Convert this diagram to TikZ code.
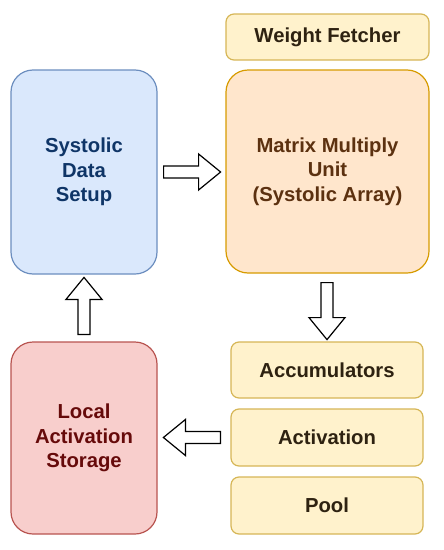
\documentclass[tikz,border=0pt]{standalone}
\usepackage{fontspec}
\setmainfont{Liberation Sans}
\usetikzlibrary{calc}
\definecolor{bluefill}{HTML}{DAE8FC}
\definecolor{bluedraw}{HTML}{6C8EBF}
\definecolor{bluetext}{HTML}{0F3567}
\definecolor{orfill}{HTML}{FFE6CC}
\definecolor{ordraw}{HTML}{D79B00}
\definecolor{ortext}{HTML}{5C3110}
\definecolor{yefill}{HTML}{FFF2CC}
\definecolor{yedraw}{HTML}{D6B656}
\definecolor{yetext}{HTML}{2E2211}
\definecolor{redfill}{HTML}{F8CECC}
\definecolor{reddraw}{HTML}{B85450}
\definecolor{redtext}{HTML}{660A0A}
\def\pxu{0.75pt}
\newcommand\blockarrow[2]{\draw[barrow, shift={#1}, rotate=#2] (0,-6) -- (35,-6) -- (35,-18) -- (57,0) -- (35,18) -- (35,6) -- (0,6) -- cycle;}
\begin{document}
\begin{tikzpicture}[x=0.75pt,y=0.75pt,
  box/.style={draw, line width=0.9pt, align=center, inner sep=0pt,
    font=\fontsize{15.2}{18.4}\selectfont\bfseries},
  big/.style={box, rounded corners=16.5pt},
  small/.style={box, rounded corners=6pt},
  bluebox/.style={big, fill=bluefill, draw=bluedraw, text=bluetext},
  orbox/.style={big, fill=orfill, draw=ordraw, text=ortext},
  redbox/.style={big, fill=redfill, draw=reddraw, text=redtext},
  yebox/.style={small, fill=yefill, draw=yedraw, text=yetext},
  barrow/.style={draw=black, fill=white, line width=0.9pt, line join=miter}]
\useasboundingbox (0,0) rectangle (443,-550);
\node[yebox, minimum width=203*\pxu, minimum height=46*\pxu] (wf) at (327.5,-37) {Weight Fetcher};
\node[bluebox, minimum width=146*\pxu, minimum height=204*\pxu] (sds) at (84,-172) {Systolic\\Data\\Setup};
\node[orbox, minimum width=203*\pxu, minimum height=203*\pxu] (mmu) at (327.5,-171.5) {Matrix Multiply\\Unit\\(Systolic Array)};
\node[redbox, minimum width=146*\pxu, minimum height=192*\pxu] (las) at (84,-438) {Local\\Activation\\Storage};
\node[yebox, minimum width=192*\pxu, minimum height=56*\pxu] (acc) at (327,-370) {Accumulators};
\node[yebox, minimum width=192*\pxu, minimum height=57*\pxu] (act) at (327,-437.5) {Activation};
\node[yebox, minimum width=192*\pxu, minimum height=57*\pxu] (pool) at (327,-505.5) {Pool};
\blockarrow{($(sds.east)+(6,0)$)}{0}
\blockarrow{($(mmu.south)+(-0.5,-9)$)}{-90}
\blockarrow{($(las.north)+(0,7)$)}{90}
\blockarrow{($(act.west)+(-10,0)$)}{180}
\end{tikzpicture}
\end{document}
